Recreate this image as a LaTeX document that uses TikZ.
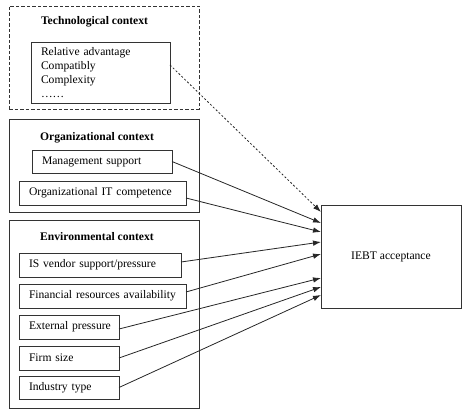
\documentclass[tikz,border=0pt]{standalone}
\usepackage{fontspec}
\setmainfont{Liberation Serif}
\usetikzlibrary{arrows.meta,calc}
\begin{document}
\begin{tikzpicture}[x=1pt,y=-1pt,
 every node/.style={font=\fontsize{11.6}{14}\selectfont, outer sep=0pt},
 frame/.style={draw=black!80, line width=0.8pt, anchor=north west, inner sep=0pt},
 item/.style={draw=black!80, line width=0.8pt, anchor=north west, inner xsep=10pt, inner ysep=0pt, align=left},
 heading/.style={font=\fontsize{11.6}{14}\selectfont\bfseries},
 link/.style={line width=0.8pt, draw=black!85, -{Latex[length=8pt,width=5.5pt]}},
 dlink/.style={link, dash pattern=on 2pt off 2pt},
]
\useasboundingbox (0,0) rectangle (474,414);
% frames
\node[frame, dash pattern=on 3.5pt off 2pt, minimum width=190, minimum height=103] (tech) at (9,6) {};
\node[frame, minimum width=190, minimum height=93] (org) at (9,119) {};
\node[frame, minimum width=190, minimum height=188] (env) at (9,220) {};
% headings
\node[heading] (ttech) at (94.5,22) {Technological context};
\node[heading] (torg) at (97,138) {Organizational context};
\node[heading] (tenv) at (97,237) {Environmental context};
% items
\node[item, minimum width=139, text width=119, minimum height=61] (tin) at (31,42)
  {Relative advantage\\Compatibly\\Complexity\\……};
\node[item, minimum width=140, text width=120, minimum height=23] (ms) at (32,150) {Management support};
\node[item, minimum width=167, text width=147, minimum height=24] (oit) at (19,181) {Organizational IT competence};
\node[item, minimum width=162, text width=142, minimum height=24] (isv) at (19,253) {IS vendor support/pressure};
\node[item, minimum width=167, text width=147, minimum height=24] (fin) at (19,284) {Financial resources availability};
\node[item, inner xsep=8pt, minimum width=100, text width=84, minimum height=24] (ext) at (19,315) {\hspace*{2pt}External pressure};
\node[item, inner xsep=8pt, minimum width=100, text width=84, minimum height=24] (firm) at (19,346) {\hspace*{2pt}Firm size};
\node[item, inner xsep=8pt, minimum width=100, text width=84, minimum height=23] (ind) at (19,376) {\hspace*{2pt}Industry type};
% target
\node[frame, minimum width=140, minimum height=103] (iebt) at (321,205) {};
\node (iebtt) at (iebt.center) {IEBT acceptance};
% connectors
\draw[dlink] ([yshift=7.5pt]tin.east) -- ($(iebt.north west)+(0,7)$);
\draw[link] (ms.east) -- ($(iebt.north west)+(0,18)$);
\draw[link] ([yshift=-5pt]oit.east) -- ($(iebt.north west)+(0,27)$);
\draw[link] ([yshift=3pt]isv.east) -- ($(iebt.north west)+(0,37)$);
\draw[link] ([yshift=4pt]fin.east) -- ($(iebt.north west)+(0,49)$);
\draw[link] ([yshift=-2pt]ext.east) -- ($(iebt.north west)+(0,73)$);
\draw[link] (firm.east) -- ($(iebt.north west)+(0,82)$);
\draw[link] (ind.east) -- ($(iebt.north west)+(0,90)$);
\end{tikzpicture}
\end{document}
